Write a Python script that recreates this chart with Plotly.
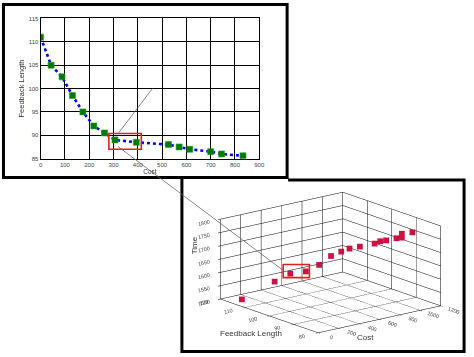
import plotly.graph_objects as go

# ---- 2D chart data (Cost vs Feedback Length) ----
cost_2d = [0, 43, 88, 131, 174, 219, 263, 306, 394, 526, 570, 614, 700, 745, 833]
fl_2d = [111.0, 105.0, 102.5, 98.5, 95.0, 92.0, 90.5, 89.0, 88.5, 88.0, 87.5, 87.0, 86.5, 86.0, 85.6]

# ---- 3D chart data (Cost, Feedback Length, Time) ----
cost_3d = [19, 172, 205, 286, 368, 437, 513, 570, 648, 768, 811, 857, 947, 987, 975, 1066]
fl_3d = [112, 105, 100, 97, 95, 93, 92, 91, 90, 89, 88.5, 88, 87.5, 87, 86.5, 86]
time_3d = [1523, 1599, 1642, 1653, 1677, 1711, 1724, 1734, 1738, 1742, 1749, 1750, 1752, 1767, 1755, 1769]

W, H = 474, 357
FONT = "Liberation Sans"

def px(x):
    return x / W

def py(y):
    return 1 - y / H

fig = go.Figure()

fig.add_trace(go.Scatter(
    x=cost_2d, y=fl_2d, mode="lines+markers",
    line=dict(color="#0000ff", width=2.6, dash="dot"),
    marker=dict(symbol="square", size=6, color="#007a00", line=dict(color="#2a9a2a", width=0.6)),
    showlegend=False, hoverinfo="skip",
))

fig.add_trace(go.Scatter3d(
    x=cost_3d, y=fl_3d, z=time_3d, mode="markers",
    marker=dict(symbol="square", size=3, color="#cc1144", line=dict(width=0)),
    showlegend=False, hoverinfo="skip", scene="scene",
))

axis2d = dict(showgrid=True, gridcolor="#000000", gridwidth=1, showline=True,
              linecolor="#000000", linewidth=1, mirror=True, zeroline=False,
              ticks="", tickfont=dict(size=6, color="#444444", family=FONT))

ax3d = dict(showbackground=False, gridcolor="#000000", gridwidth=1,
            showline=True, linecolor="#000000", linewidth=1, zeroline=False,
            showspikes=False, tickfont=dict(size=8, color="#444444", family=FONT),
            ticks="outside", ticklen=3, tickcolor="#000000", title=dict(text=""))

S = 1.9
fig.update_layout(
    width=W, height=H, margin=dict(l=0, r=0, t=0, b=0),
    paper_bgcolor="white", plot_bgcolor="white",
    font=dict(family=FONT, color="#333333"),
    xaxis=dict(axis2d, domain=[px(39.3), px(261.7)], range=[0, 900], dtick=100,
               title=dict(text="Cost", font=dict(size=6.5, color="#333333"), standoff=2)),
    yaxis=dict(axis2d, domain=[py(158.3), py(15.7)], range=[85, 115], dtick=5,
               title=dict(text="Feedback Length", font=dict(size=7.5, color="#333333"), standoff=2)),
    scene=dict(
        domain=dict(x=[px(194), px(474)], y=[py(348), py(180)]),
        xaxis=dict(ax3d, range=[0, 1200], dtick=200),
        yaxis=dict(ax3d, range=[80, 120], dtick=10),
        zaxis=dict(ax3d, range=[1500, 1800], dtick=50),
        aspectmode="manual", aspectratio=dict(x=S, y=S, z=0.53 * S),
        camera=dict(eye=dict(x=-0.600 * 3, y=-0.751 * 3, z=0.276 * 3),
                    center=dict(x=0, y=0, z=0), up=dict(x=0, y=0, z=1),
                    projection=dict(type="orthographic")),
        bgcolor="rgba(0,0,0,0)",
    ),
    annotations=[
        dict(text="Feedback Length", xref="paper", yref="paper", x=px(253), y=py(343),
             showarrow=False, font=dict(size=8, color="#333333", family=FONT)),
        dict(text="Cost", xref="paper", yref="paper", x=px(380), y=py(347),
             showarrow=False, font=dict(size=8, color="#333333", family=FONT)),
        dict(text="Time", xref="paper", yref="paper", x=px(196), y=py(258), textangle=-90,
             showarrow=False, font=dict(size=8, color="#333333", family=FONT)),
    ],
)

shapes = []
# bottom panel border (top segment only right of the top panel)
shapes.append(dict(type="path", xref="paper", yref="paper",
                   path=f"M {px(291)},{py(180)} L {px(470)},{py(180)} L {px(470)},{py(354.5)} L {px(183)},{py(354.5)} L {px(183)},{py(178)}",
                   line=dict(color="#000000", width=3)))
# top panel border
shapes.append(dict(type="rect", xref="paper", yref="paper",
                   x0=px(1.5), x1=px(290), y0=py(177.5), y1=py(1.5),
                   line=dict(color="#000000", width=3)))
# connector lines
shapes.append(dict(type="line", xref="paper", yref="paper",
                   x0=px(118), y0=py(133), x1=px(153), y1=py(87),
                   line=dict(color="#666666", width=0.8)))
shapes.append(dict(type="line", xref="paper", yref="paper",
                   x0=px(118), y0=py(146), x1=px(286), y1=py(272),
                   line=dict(color="#666666", width=0.8)))
# red highlight rectangles
shapes.append(dict(type="rect", xref="paper", yref="paper",
                   x0=px(108.7), x1=px(141.7), y0=py(148.7), y1=py(132.7),
                   line=dict(color="#e02020", width=1.6)))
shapes.append(dict(type="rect", xref="paper", yref="paper",
                   x0=px(286), x1=px(312.7), y0=py(279.3), y1=py(266),
                   line=dict(color="#e02020", width=1.6)))
fig.update_layout(shapes=shapes)

fig.write_html("out.html", config=dict(displayModeBar=False),
               post_script="document.body.style.margin='0';document.body.style.padding='0';")
